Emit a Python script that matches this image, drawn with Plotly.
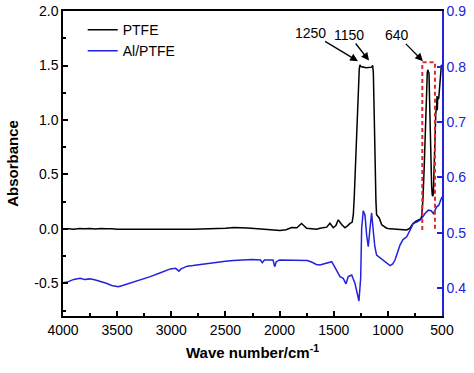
import plotly.graph_objects as go

# ---------------- data ----------------
ptfe_wn = [4000, 3950, 3900, 3850, 3800, 3750, 3700, 3650, 3600, 3550, 3500, 3400, 3300, 3200,
           3100, 3000, 2900, 2800, 2707, 2600, 2500, 2420, 2366, 2300, 2200, 2100, 2058, 1997,
           1940, 1889, 1840, 1797, 1750, 1700, 1658, 1627, 1590, 1565, 1535, 1504, 1480, 1458,
           1427, 1396, 1370, 1350, 1330, 1319, 1310, 1304, 1295, 1285, 1275, 1264, 1258, 1250,
           1200, 1150, 1140, 1134, 1125, 1118, 1110, 1104, 1080, 1057, 1030, 1011, 980, 935,
           900, 861, 826, 796, 768, 740, 721, 700, 688, 676, 665, 657, 648, 642, 636, 632, 626,
           620, 615, 611, 606, 602, 596, 590, 584, 580, 575, 571, 565, 557, 549, 546, 543, 540,
           537, 534, 530, 525, 518, 512, 506, 500]
ptfe_abs = [0.00, 0.002, -0.003, 0.004, 0.0, 0.003, -0.002, 0.003, 0.0, 0.002, -0.003, -0.004,
            -0.004, -0.004, -0.004, -0.004, -0.004, -0.003, -0.002, 0.003, 0.006, 0.012, 0.012,
            0.008, 0.0, -0.01, -0.015, -0.015, -0.008, 0.012, 0.01, 0.05, 0.006, 0.0, -0.003,
            0.006, 0.01, 0.016, 0.052, 0.01, 0.03, 0.083, 0.04, 0.01, 0.03, 0.05, 0.06, 0.13,
            0.3, 0.45, 0.75, 1.05, 1.3, 1.47, 1.505, 1.49, 1.48, 1.485, 1.50, 1.43, 1.0, 0.36,
            0.25, 0.13, 0.1, 0.037, 0.015, 0.006, 0.0, -0.003, -0.01, -0.01, -0.01, 0.006, 0.05,
            0.07, 0.08, 0.09, 0.11, 0.27, 0.55, 0.82, 1.15, 1.37, 1.43, 1.46, 1.45, 1.43, 1.2,
            0.98, 0.75, 0.52, 0.4, 0.31, 0.30, 0.33, 0.5, 0.67, 0.97, 1.07, 1.13, 1.22, 1.09,
            1.21, 1.10, 1.19, 1.2, 1.28, 1.38, 1.49, 1.5, 1.5]

al_wn = [4000, 3950, 3900, 3843, 3800, 3750, 3700, 3657, 3600, 3550, 3490, 3450, 3400, 3300,
         3194, 3100, 3009, 2960, 2930, 2910, 2880, 2852, 2800, 2700, 2600, 2500, 2426, 2361,
         2250, 2176, 2160, 2140, 2060, 2045, 2030, 2000, 1900, 1800, 1743, 1700, 1660, 1627,
         1590, 1550, 1519, 1495, 1473, 1442, 1412, 1387, 1366, 1334, 1304, 1288, 1267, 1251,
         1242, 1227, 1211, 1196, 1181, 1165, 1150, 1134, 1120, 1104, 1070, 1042, 1010, 980,
         955, 934, 910, 888, 860, 826, 787, 765, 730, 703, 680, 657, 626, 600, 580, 560, 549,
         530, 510, 500]
al_abs = [0.410, 0.412, 0.416, 0.418, 0.416, 0.417, 0.415, 0.413, 0.409, 0.405, 0.403, 0.405,
          0.408, 0.414, 0.421, 0.428, 0.435, 0.436, 0.431, 0.435, 0.437, 0.440, 0.441, 0.444,
          0.447, 0.449, 0.450, 0.451, 0.452, 0.451, 0.446, 0.451, 0.451, 0.439, 0.448, 0.451,
          0.451, 0.451, 0.450, 0.447, 0.443, 0.442, 0.444, 0.447, 0.448, 0.440, 0.433, 0.421,
          0.418, 0.408, 0.421, 0.424, 0.409, 0.394, 0.377, 0.418, 0.508, 0.540, 0.532, 0.496,
          0.475, 0.508, 0.536, 0.502, 0.475, 0.460, 0.455, 0.451, 0.445, 0.441, 0.444, 0.451,
          0.465, 0.478, 0.488, 0.493, 0.508, 0.517, 0.520, 0.523, 0.528, 0.535, 0.541, 0.540,
          0.535, 0.542, 0.547, 0.550, 0.558, 0.565]

x_ticks = [4000, 3500, 3000, 2500, 2000, 1500, 1000, 500]
x_labels = ["4000", "3500", "3000", "2500", "2000", "1500", "1000", "500"]
y_ticks = [-0.5, 0.0, 0.5, 1.0, 1.5, 2.0]
y_labels = ["-0.5", "0.0", "0.5", "1.0", "1.5", "2.0"]
y2_ticks = [0.4, 0.5, 0.6, 0.7, 0.8, 0.9]
y2_labels = ["0.4", "0.5", "0.6", "0.7", "0.8", "0.9"]

peak_labels = ["1250", "1150", "640"]
peak_text_x = [1710, 1359, 911]
peak_text_y = [1.80, 1.78, 1.777]
arrow_tip_x = [1276, 1174, 676]
arrow_tip_y = [1.54, 1.545, 1.54]

box_x = [682, 565]
box_y = [-0.01, 1.53]

BLUE = "#2222dd"
FONT = "Liberation Sans, Arial, sans-serif"

fig = go.Figure()
fig.add_trace(go.Scatter(x=ptfe_wn, y=ptfe_abs, mode="lines", name="PTFE",
                         line=dict(color="black", width=1.5)))
fig.add_trace(go.Scatter(x=al_wn, y=al_abs, mode="lines", name="Al/PTFE", yaxis="y2",
                         line=dict(color=BLUE, width=1.5)))

for t, tx, ty, x_, y_ in zip(peak_labels, peak_text_x, peak_text_y, arrow_tip_x, arrow_tip_y):
    fig.add_annotation(x=x_, y=y_, ax=tx, ay=ty, axref="x", ayref="y", xref="x", yref="y",
                       text=t, showarrow=True, arrowhead=2, arrowsize=1.2, arrowwidth=1.3,
                       arrowcolor="black", standoff=0, borderpad=0,
                       font=dict(size=14, color="black", family=FONT))

fig.add_shape(type="path", xref="x", yref="y",
              path=f"M {box_x[0]},{box_y[0]} L {box_x[0]},{box_y[1]} L {box_x[1]},{box_y[1]} L {box_x[1]},{box_y[0]}",
              line=dict(color="#e02828", width=2, dash="4px,3px"))

fig.update_layout(
    width=474, height=373,
    margin=dict(l=63, r=32, t=11, b=57, autoexpand=False),
    plot_bgcolor="white", paper_bgcolor="white",
    font=dict(family=FONT, size=14, color="black"),
    showlegend=True,
    legend=dict(x=0.052, y=0.99, xanchor="left", yanchor="top", bgcolor="rgba(0,0,0,0)",
                font=dict(size=14), tracegroupgap=0, itemwidth=30),
    xaxis=dict(range=[4000, 500], tickvals=x_ticks, ticktext=x_labels, ticks="inside",
               ticklen=5, tickwidth=1.5, tickcolor="black", automargin=False,
               minor=dict(ticks="inside", ticklen=3, tickwidth=1.5, dtick=250, tick0=0, tickcolor="black"),
               showline=True, linecolor="black", linewidth=1.5, mirror=True,
               showgrid=False, zeroline=False,
               title=dict(text="<b>Wave number/cm<sup>-1</sup></b>", font=dict(size=15), standoff=11)),
    yaxis=dict(range=[-0.8, 2.0005], tickvals=y_ticks, ticktext=y_labels, ticks="inside",
               ticklen=5, tickwidth=1.5, tickcolor="black", automargin=False,
               minor=dict(ticks="inside", ticklen=3, tickwidth=1.5, dtick=0.25, tick0=0, tickcolor="black"),
               showline=True, linecolor="black", linewidth=1.5, mirror=False,
               showgrid=False, zeroline=False,
               title=dict(text="<b>Absorbance</b>", font=dict(size=15), standoff=12)),
    yaxis2=dict(range=[0.35, 0.9005], overlaying="y", side="right", tickvals=y2_ticks,
                ticktext=y2_labels, ticks="inside", ticklen=5, tickwidth=1.5, tickcolor=BLUE,
                showline=True, linecolor=BLUE, linewidth=1.5, showgrid=False, zeroline=False,
                automargin=False, tickfont=dict(color=BLUE, size=14)),
)

fig.write_html("out.html", config={"displayModeBar": False},
               post_script="document.body.style.margin='0';document.body.style.padding='0';")
